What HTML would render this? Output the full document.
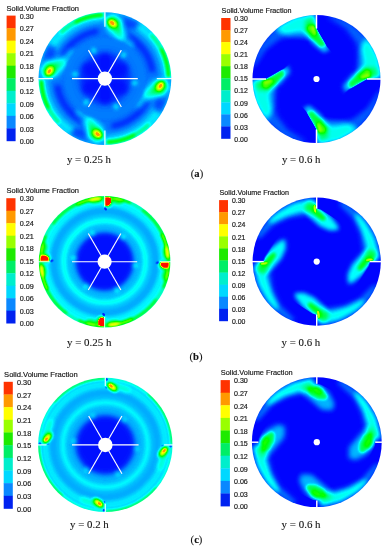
<!DOCTYPE html>
<html><head><meta charset="utf-8"><title>Solid volume fraction</title>
<style>
html,body{margin:0;padding:0;background:#fff;}
svg{display:block;}
.lg text{font-family:"Liberation Sans",sans-serif;fill:#1a1a1a;stroke:#1a1a1a;stroke-width:0.18px;}
.cap{font-family:"Liberation Serif",serif;font-size:10.6px;fill:#111;stroke:#111;stroke-width:0.1px;}
</style></head><body>
<svg width="386" height="550" viewBox="0 0 386 550">
<defs>
<filter id="cm" filterUnits="userSpaceOnUse" x="-70" y="-70" width="140" height="140" color-interpolation-filters="sRGB"><feComponentTransfer><feFuncR type="table" tableValues="0 0 0 1 1"/><feFuncG type="table" tableValues="0 1 1 1 0"/><feFuncB type="table" tableValues="1 1 0 0 0"/></feComponentTransfer></filter>
<clipPath id="clip"><circle r="64"/></clipPath>
<clipPath id="cqa"><path d="M0 -70L0 -50.5L10.5 -32.2L14 -28.5L19 -26L40 -22L40 10L-80 10L-80 -70Z"/></clipPath>
<clipPath id="cqb"><path d="M0 -70L0 -53L4 -52L40 -29L40 10L-80 10L-80 -70Z"/></clipPath>
<clipPath id="cqc"><path d="M0 -70L0 -57.6L4 -57L40 -39L40 10L-80 10L-80 -70Z"/></clipPath>
<filter id="b0_55" filterUnits="userSpaceOnUse" x="-90" y="-90" width="180" height="180" color-interpolation-filters="sRGB"><feGaussianBlur stdDeviation="0.55"/></filter>
<filter id="b0_6" filterUnits="userSpaceOnUse" x="-90" y="-90" width="180" height="180" color-interpolation-filters="sRGB"><feGaussianBlur stdDeviation="0.6"/></filter>
<filter id="b0_7" filterUnits="userSpaceOnUse" x="-90" y="-90" width="180" height="180" color-interpolation-filters="sRGB"><feGaussianBlur stdDeviation="0.7"/></filter>
<filter id="b0_75" filterUnits="userSpaceOnUse" x="-90" y="-90" width="180" height="180" color-interpolation-filters="sRGB"><feGaussianBlur stdDeviation="0.75"/></filter>
<filter id="b0_8" filterUnits="userSpaceOnUse" x="-90" y="-90" width="180" height="180" color-interpolation-filters="sRGB"><feGaussianBlur stdDeviation="0.8"/></filter>
<filter id="b0_9" filterUnits="userSpaceOnUse" x="-90" y="-90" width="180" height="180" color-interpolation-filters="sRGB"><feGaussianBlur stdDeviation="0.9"/></filter>
<filter id="b1" filterUnits="userSpaceOnUse" x="-90" y="-90" width="180" height="180" color-interpolation-filters="sRGB"><feGaussianBlur stdDeviation="1"/></filter>
<filter id="b1_0" filterUnits="userSpaceOnUse" x="-90" y="-90" width="180" height="180" color-interpolation-filters="sRGB"><feGaussianBlur stdDeviation="1.0"/></filter>
<filter id="b1_1" filterUnits="userSpaceOnUse" x="-90" y="-90" width="180" height="180" color-interpolation-filters="sRGB"><feGaussianBlur stdDeviation="1.1"/></filter>
<filter id="b1_2" filterUnits="userSpaceOnUse" x="-90" y="-90" width="180" height="180" color-interpolation-filters="sRGB"><feGaussianBlur stdDeviation="1.2"/></filter>
<filter id="b1_3" filterUnits="userSpaceOnUse" x="-90" y="-90" width="180" height="180" color-interpolation-filters="sRGB"><feGaussianBlur stdDeviation="1.3"/></filter>
<filter id="b1_4" filterUnits="userSpaceOnUse" x="-90" y="-90" width="180" height="180" color-interpolation-filters="sRGB"><feGaussianBlur stdDeviation="1.4"/></filter>
<filter id="b1_5" filterUnits="userSpaceOnUse" x="-90" y="-90" width="180" height="180" color-interpolation-filters="sRGB"><feGaussianBlur stdDeviation="1.5"/></filter>
<filter id="b1_6" filterUnits="userSpaceOnUse" x="-90" y="-90" width="180" height="180" color-interpolation-filters="sRGB"><feGaussianBlur stdDeviation="1.6"/></filter>
<filter id="b1_8" filterUnits="userSpaceOnUse" x="-90" y="-90" width="180" height="180" color-interpolation-filters="sRGB"><feGaussianBlur stdDeviation="1.8"/></filter>
<filter id="b2" filterUnits="userSpaceOnUse" x="-90" y="-90" width="180" height="180" color-interpolation-filters="sRGB"><feGaussianBlur stdDeviation="2"/></filter>
<filter id="b2_2" filterUnits="userSpaceOnUse" x="-90" y="-90" width="180" height="180" color-interpolation-filters="sRGB"><feGaussianBlur stdDeviation="2.2"/></filter>
<filter id="b2_3" filterUnits="userSpaceOnUse" x="-90" y="-90" width="180" height="180" color-interpolation-filters="sRGB"><feGaussianBlur stdDeviation="2.3"/></filter>
<filter id="b2_4" filterUnits="userSpaceOnUse" x="-90" y="-90" width="180" height="180" color-interpolation-filters="sRGB"><feGaussianBlur stdDeviation="2.4"/></filter>
<filter id="b2_5" filterUnits="userSpaceOnUse" x="-90" y="-90" width="180" height="180" color-interpolation-filters="sRGB"><feGaussianBlur stdDeviation="2.5"/></filter>
<filter id="b3_2" filterUnits="userSpaceOnUse" x="-90" y="-90" width="180" height="180" color-interpolation-filters="sRGB"><feGaussianBlur stdDeviation="3.2"/></filter>
</defs>
<g transform="translate(104.9 78.6) scale(1.0375)"><g filter="url(#cm)" clip-path="url(#clip)"><rect x="-70" y="-70" width="140" height="140" fill="rgb(29,29,29)"/><g transform="rotate(0)"><g filter="url(#b2_5)"><path d="M26.06 -49.00A55.5 55.5 0 0 1 55.47 -1.94" fill="none" stroke="rgb(255,255,255)" stroke-width="6" stroke-opacity="0.06" stroke-linecap="butt"/></g><g filter="url(#b2_2)"><path d="M21.74 -40.88A46.3 46.3 0 0 1 45.85 -6.44" fill="none" stroke="rgb(0,0,0)" stroke-width="6" stroke-opacity="0.65" stroke-linecap="butt"/></g><g filter="url(#b2_2)"><ellipse cx="24.5" cy="-52" rx="8" ry="3.6" fill="rgb(0,0,0)" fill-opacity="0.42" transform="rotate(25 24.5 -52)"/></g><g filter="url(#b2)"><path d="M32.11 -51.39A60.6 60.6 0 0 1 60.59 -1.06" fill="none" stroke="rgb(255,255,255)" stroke-width="7" stroke-opacity="0.13" stroke-linecap="butt"/></g><g filter="url(#b1_4)"><path d="M44.17 -42.65A61.4 61.4 0 0 1 61.39 -1.07" fill="none" stroke="rgb(255,255,255)" stroke-width="3.6" stroke-opacity="0.2" stroke-linecap="butt"/></g><g filter="url(#b1_3)"><path d="M54.21 -28.83A61.4 61.4 0 0 1 61.38 -1.61" fill="none" stroke="rgb(255,255,255)" stroke-width="3.2" stroke-opacity="0.27" stroke-linecap="butt"/></g><g filter="url(#b2_5)"><path d="M14 -44L25 -33" fill="none" stroke="rgb(255,255,255)" stroke-width="7" stroke-opacity="0.09" stroke-linecap="round"/></g><g filter="url(#b2_5)"><path d="M0.5 -60L9 -62L17 -57L19 -46L16.5 -35L11 -38L2 -46L0.5 -53Z" fill="rgb(255,255,255)" fill-opacity="0.15"/></g><g filter="url(#b2)"><path d="M1.5 -58.5L9 -60L14.5 -55.5L15 -49L13.5 -44L9 -46L3 -50.5L1.5 -54Z" fill="rgb(255,255,255)" fill-opacity="0.25"/></g><g filter="url(#b1_5)"><ellipse cx="7.5" cy="-53" rx="5.5" ry="4.6" fill="rgb(255,255,255)" fill-opacity="0.22" transform="rotate(30 7.5 -53)"/></g><g filter="url(#b1_1)"><ellipse cx="7.3" cy="-53.3" rx="4.9" ry="3.3" fill="rgb(255,255,255)" fill-opacity="0.4" transform="rotate(35 7.3 -53.3)"/></g><g filter="url(#b0_7)"><ellipse cx="7" cy="-53.6" rx="2.5" ry="1.7" fill="rgb(255,255,255)" fill-opacity="0.45" transform="rotate(35 7 -53.6)"/></g></g><g transform="rotate(90)"><g filter="url(#b2_5)"><path d="M26.06 -49.00A55.5 55.5 0 0 1 55.47 -1.94" fill="none" stroke="rgb(255,255,255)" stroke-width="6" stroke-opacity="0.06" stroke-linecap="butt"/></g><g filter="url(#b2_2)"><path d="M21.74 -40.88A46.3 46.3 0 0 1 45.85 -6.44" fill="none" stroke="rgb(0,0,0)" stroke-width="6" stroke-opacity="0.65" stroke-linecap="butt"/></g><g filter="url(#b2_2)"><ellipse cx="24.5" cy="-52" rx="8" ry="3.6" fill="rgb(0,0,0)" fill-opacity="0.42" transform="rotate(25 24.5 -52)"/></g><g filter="url(#b2)"><path d="M32.11 -51.39A60.6 60.6 0 0 1 60.59 -1.06" fill="none" stroke="rgb(255,255,255)" stroke-width="7" stroke-opacity="0.13" stroke-linecap="butt"/></g><g filter="url(#b1_4)"><path d="M44.17 -42.65A61.4 61.4 0 0 1 61.39 -1.07" fill="none" stroke="rgb(255,255,255)" stroke-width="3.6" stroke-opacity="0.2" stroke-linecap="butt"/></g><g filter="url(#b1_3)"><path d="M54.21 -28.83A61.4 61.4 0 0 1 61.38 -1.61" fill="none" stroke="rgb(255,255,255)" stroke-width="3.2" stroke-opacity="0.27" stroke-linecap="butt"/></g><g filter="url(#b2_5)"><path d="M14 -44L25 -33" fill="none" stroke="rgb(255,255,255)" stroke-width="7" stroke-opacity="0.09" stroke-linecap="round"/></g><g filter="url(#b2_5)"><path d="M0.5 -60L9 -62L17 -57L19 -46L16.5 -35L11 -38L2 -46L0.5 -53Z" fill="rgb(255,255,255)" fill-opacity="0.15"/></g><g filter="url(#b2)"><path d="M1.5 -58.5L9 -60L14.5 -55.5L15 -49L13.5 -44L9 -46L3 -50.5L1.5 -54Z" fill="rgb(255,255,255)" fill-opacity="0.25"/></g><g filter="url(#b1_5)"><ellipse cx="7.5" cy="-53" rx="5.5" ry="4.6" fill="rgb(255,255,255)" fill-opacity="0.22" transform="rotate(30 7.5 -53)"/></g><g filter="url(#b1_1)"><ellipse cx="7.3" cy="-53.3" rx="4.9" ry="3.3" fill="rgb(255,255,255)" fill-opacity="0.4" transform="rotate(35 7.3 -53.3)"/></g><g filter="url(#b0_7)"><ellipse cx="7" cy="-53.6" rx="2.5" ry="1.7" fill="rgb(255,255,255)" fill-opacity="0.45" transform="rotate(35 7 -53.6)"/></g></g><g transform="rotate(180)"><g filter="url(#b2_5)"><path d="M26.06 -49.00A55.5 55.5 0 0 1 55.47 -1.94" fill="none" stroke="rgb(255,255,255)" stroke-width="6" stroke-opacity="0.06" stroke-linecap="butt"/></g><g filter="url(#b2_2)"><path d="M21.74 -40.88A46.3 46.3 0 0 1 45.85 -6.44" fill="none" stroke="rgb(0,0,0)" stroke-width="6" stroke-opacity="0.65" stroke-linecap="butt"/></g><g filter="url(#b2_2)"><ellipse cx="24.5" cy="-52" rx="8" ry="3.6" fill="rgb(0,0,0)" fill-opacity="0.42" transform="rotate(25 24.5 -52)"/></g><g filter="url(#b2)"><path d="M32.11 -51.39A60.6 60.6 0 0 1 60.59 -1.06" fill="none" stroke="rgb(255,255,255)" stroke-width="7" stroke-opacity="0.13" stroke-linecap="butt"/></g><g filter="url(#b1_4)"><path d="M44.17 -42.65A61.4 61.4 0 0 1 61.39 -1.07" fill="none" stroke="rgb(255,255,255)" stroke-width="3.6" stroke-opacity="0.2" stroke-linecap="butt"/></g><g filter="url(#b1_3)"><path d="M54.21 -28.83A61.4 61.4 0 0 1 61.38 -1.61" fill="none" stroke="rgb(255,255,255)" stroke-width="3.2" stroke-opacity="0.27" stroke-linecap="butt"/></g><g filter="url(#b2_5)"><path d="M14 -44L25 -33" fill="none" stroke="rgb(255,255,255)" stroke-width="7" stroke-opacity="0.09" stroke-linecap="round"/></g><g filter="url(#b2_5)"><path d="M0.5 -60L9 -62L17 -57L19 -46L16.5 -35L11 -38L2 -46L0.5 -53Z" fill="rgb(255,255,255)" fill-opacity="0.15"/></g><g filter="url(#b2)"><path d="M1.5 -58.5L9 -60L14.5 -55.5L15 -49L13.5 -44L9 -46L3 -50.5L1.5 -54Z" fill="rgb(255,255,255)" fill-opacity="0.25"/></g><g filter="url(#b1_5)"><ellipse cx="7.5" cy="-53" rx="5.5" ry="4.6" fill="rgb(255,255,255)" fill-opacity="0.22" transform="rotate(30 7.5 -53)"/></g><g filter="url(#b1_1)"><ellipse cx="7.3" cy="-53.3" rx="4.9" ry="3.3" fill="rgb(255,255,255)" fill-opacity="0.4" transform="rotate(35 7.3 -53.3)"/></g><g filter="url(#b0_7)"><ellipse cx="7" cy="-53.6" rx="2.5" ry="1.7" fill="rgb(255,255,255)" fill-opacity="0.45" transform="rotate(35 7 -53.6)"/></g></g><g transform="rotate(270)"><g filter="url(#b2_5)"><path d="M26.06 -49.00A55.5 55.5 0 0 1 55.47 -1.94" fill="none" stroke="rgb(255,255,255)" stroke-width="6" stroke-opacity="0.06" stroke-linecap="butt"/></g><g filter="url(#b2_2)"><path d="M21.74 -40.88A46.3 46.3 0 0 1 45.85 -6.44" fill="none" stroke="rgb(0,0,0)" stroke-width="6" stroke-opacity="0.65" stroke-linecap="butt"/></g><g filter="url(#b2_2)"><ellipse cx="24.5" cy="-52" rx="8" ry="3.6" fill="rgb(0,0,0)" fill-opacity="0.42" transform="rotate(25 24.5 -52)"/></g><g filter="url(#b2)"><path d="M32.11 -51.39A60.6 60.6 0 0 1 60.59 -1.06" fill="none" stroke="rgb(255,255,255)" stroke-width="7" stroke-opacity="0.13" stroke-linecap="butt"/></g><g filter="url(#b1_4)"><path d="M44.17 -42.65A61.4 61.4 0 0 1 61.39 -1.07" fill="none" stroke="rgb(255,255,255)" stroke-width="3.6" stroke-opacity="0.2" stroke-linecap="butt"/></g><g filter="url(#b1_3)"><path d="M54.21 -28.83A61.4 61.4 0 0 1 61.38 -1.61" fill="none" stroke="rgb(255,255,255)" stroke-width="3.2" stroke-opacity="0.27" stroke-linecap="butt"/></g><g filter="url(#b2_5)"><path d="M14 -44L25 -33" fill="none" stroke="rgb(255,255,255)" stroke-width="7" stroke-opacity="0.09" stroke-linecap="round"/></g><g filter="url(#b2_5)"><path d="M0.5 -60L9 -62L17 -57L19 -46L16.5 -35L11 -38L2 -46L0.5 -53Z" fill="rgb(255,255,255)" fill-opacity="0.15"/></g><g filter="url(#b2)"><path d="M1.5 -58.5L9 -60L14.5 -55.5L15 -49L13.5 -44L9 -46L3 -50.5L1.5 -54Z" fill="rgb(255,255,255)" fill-opacity="0.25"/></g><g filter="url(#b1_5)"><ellipse cx="7.5" cy="-53" rx="5.5" ry="4.6" fill="rgb(255,255,255)" fill-opacity="0.22" transform="rotate(30 7.5 -53)"/></g><g filter="url(#b1_1)"><ellipse cx="7.3" cy="-53.3" rx="4.9" ry="3.3" fill="rgb(255,255,255)" fill-opacity="0.4" transform="rotate(35 7.3 -53.3)"/></g><g filter="url(#b0_7)"><ellipse cx="7" cy="-53.6" rx="2.5" ry="1.7" fill="rgb(255,255,255)" fill-opacity="0.45" transform="rotate(35 7 -53.6)"/></g></g><g filter="url(#b1)"><circle r="63.6" fill="none" stroke="rgb(255,255,255)" stroke-width="1.6" stroke-opacity="0.08"/></g><g filter="url(#b0_8)"><circle r="39.3" fill="rgb(32,32,32)" fill-opacity="0.85"/></g><g filter="url(#b3_2)"><circle r="25" fill="rgb(5,5,5)" fill-opacity="0.8"/></g><g transform="rotate(0)"><g filter="url(#b2_2)"><ellipse cx="0" cy="-15.5" rx="6.5" ry="9.5" fill="rgb(0,0,0)" fill-opacity="0.6" transform="rotate(0 0 -15.5)"/></g></g><g transform="rotate(60)"><g filter="url(#b2_2)"><ellipse cx="0" cy="-15.5" rx="6.5" ry="9.5" fill="rgb(0,0,0)" fill-opacity="0.6" transform="rotate(0 0 -15.5)"/></g></g><g transform="rotate(120)"><g filter="url(#b2_2)"><ellipse cx="0" cy="-15.5" rx="6.5" ry="9.5" fill="rgb(0,0,0)" fill-opacity="0.6" transform="rotate(0 0 -15.5)"/></g></g><g transform="rotate(180)"><g filter="url(#b2_2)"><ellipse cx="0" cy="-15.5" rx="6.5" ry="9.5" fill="rgb(0,0,0)" fill-opacity="0.6" transform="rotate(0 0 -15.5)"/></g></g><g transform="rotate(240)"><g filter="url(#b2_2)"><ellipse cx="0" cy="-15.5" rx="6.5" ry="9.5" fill="rgb(0,0,0)" fill-opacity="0.6" transform="rotate(0 0 -15.5)"/></g></g><g transform="rotate(300)"><g filter="url(#b2_2)"><ellipse cx="0" cy="-15.5" rx="6.5" ry="9.5" fill="rgb(0,0,0)" fill-opacity="0.6" transform="rotate(0 0 -15.5)"/></g></g><g transform="rotate(30)"><g filter="url(#b1_5)"><ellipse cx="4.2" cy="-28.5" rx="2.6" ry="3.2" fill="rgb(255,255,255)" fill-opacity="0.1" transform="rotate(0 4.2 -28.5)"/></g></g><g transform="rotate(90)"><g filter="url(#b1_5)"><ellipse cx="4.2" cy="-28.5" rx="2.6" ry="3.2" fill="rgb(255,255,255)" fill-opacity="0.1" transform="rotate(0 4.2 -28.5)"/></g></g><g transform="rotate(150)"><g filter="url(#b1_5)"><ellipse cx="4.2" cy="-28.5" rx="2.6" ry="3.2" fill="rgb(255,255,255)" fill-opacity="0.1" transform="rotate(0 4.2 -28.5)"/></g></g><g transform="rotate(210)"><g filter="url(#b1_5)"><ellipse cx="4.2" cy="-28.5" rx="2.6" ry="3.2" fill="rgb(255,255,255)" fill-opacity="0.1" transform="rotate(0 4.2 -28.5)"/></g></g><g transform="rotate(270)"><g filter="url(#b1_5)"><ellipse cx="4.2" cy="-28.5" rx="2.6" ry="3.2" fill="rgb(255,255,255)" fill-opacity="0.1" transform="rotate(0 4.2 -28.5)"/></g></g><g transform="rotate(330)"><g filter="url(#b1_5)"><ellipse cx="4.2" cy="-28.5" rx="2.6" ry="3.2" fill="rgb(255,255,255)" fill-opacity="0.1" transform="rotate(0 4.2 -28.5)"/></g></g></g><g transform="rotate(0)"><line x1="0" y1="-66" x2="0" y2="-50" stroke="#fff" stroke-width="1.2" stroke-opacity="0.92"/></g><g transform="rotate(90)"><line x1="0" y1="-66" x2="0" y2="-50" stroke="#fff" stroke-width="1.2" stroke-opacity="0.92"/></g><g transform="rotate(180)"><line x1="0" y1="-66" x2="0" y2="-50" stroke="#fff" stroke-width="1.2" stroke-opacity="0.92"/></g><g transform="rotate(270)"><line x1="0" y1="-66" x2="0" y2="-50" stroke="#fff" stroke-width="1.2" stroke-opacity="0.92"/></g><line x1="-31.70" y1="-0.00" x2="31.70" y2="0.00" stroke="#fff" stroke-width="1.1"/><line x1="-15.85" y1="-27.45" x2="15.85" y2="27.45" stroke="#fff" stroke-width="1.1"/><line x1="15.85" y1="-27.45" x2="-15.85" y2="27.45" stroke="#fff" stroke-width="1.1"/><circle r="6.9" fill="#fff"/></g><g class="lg"><text x="6.6" y="10.8" font-size="7.44">Solid.Volume Fraction</text><rect x="6.6" y="15.60" width="9.00" height="12.83" fill="#ff3300"/><rect x="6.6" y="28.13" width="9.00" height="12.83" fill="#ff9900"/><rect x="6.6" y="40.66" width="9.00" height="12.83" fill="#ffff00"/><rect x="6.6" y="53.19" width="9.00" height="12.83" fill="#99ff00"/><rect x="6.6" y="65.72" width="9.00" height="12.83" fill="#1eea00"/><rect x="6.6" y="78.25" width="9.00" height="12.83" fill="#00ee66"/><rect x="6.6" y="90.78" width="9.00" height="12.83" fill="#00eecc"/><rect x="6.6" y="103.31" width="9.00" height="12.83" fill="#00d8ff"/><rect x="6.6" y="115.84" width="9.00" height="12.83" fill="#0a88ff"/><rect x="6.6" y="128.37" width="9.00" height="12.83" fill="#0022f0"/><text x="19.7" y="18.88" font-size="7.2">0.30</text><text x="19.7" y="31.41" font-size="7.2">0.27</text><text x="19.7" y="43.94" font-size="7.2">0.24</text><text x="19.7" y="56.47" font-size="7.2">0.21</text><text x="19.7" y="69.00" font-size="7.2">0.18</text><text x="19.7" y="81.53" font-size="7.2">0.15</text><text x="19.7" y="94.06" font-size="7.2">0.12</text><text x="19.7" y="106.59" font-size="7.2">0.09</text><text x="19.7" y="119.12" font-size="7.2">0.06</text><text x="19.7" y="131.65" font-size="7.2">0.03</text><text x="19.7" y="144.18" font-size="7.2">0.00</text></g><g transform="translate(316.5 79) scale(1.0000)"><g filter="url(#cm)" clip-path="url(#clip)"><rect x="-70" y="-70" width="140" height="140" fill="rgb(1,1,1)"/><g transform="rotate(0)"><g filter="url(#b0_75)"><g clip-path="url(#cqa)"><g filter="url(#b2_5)"><path d="M2.3 -65.96L-22.57 -62.02L-42.42 -50.56L-57.16 -33.0L-65.0 -11.46L-61.13 -12.99L-50.66 -29.25L-36.13 -40.13L-21.79 -42.77L-8.94 -42.06L0.7 -39.99Z" fill="rgb(255,255,255)" fill-opacity="0.09"/></g><g filter="url(#b2_2)"><path d="M-2.3 -65.96L-22.57 -62.02L-42.42 -50.56L-34.48 -44.13L-19.1 -47.29L-4.1 -46.82Z" fill="rgb(255,255,255)" fill-opacity="0.15"/><path d="M-2.3 -65.96L-22.57 -62.02L-38.79 -53.4L-27.96 -41.45L-14.71 -40.41L-2.72 -38.9Z" fill="rgb(255,255,255)" fill-opacity="0.06"/></g><g filter="url(#b2)"><path d="M-11 -59L-1 -61.5L0 -50.5L13.2 -29L7 -26.5L-4 -35.5L-12 -47Z" fill="rgb(255,255,255)" fill-opacity="0.2"/></g><g filter="url(#b1_5)"><path d="M-8.5 -54L-1 -55.5L0 -50L10 -34L4 -32L-6 -42L-10 -50Z" fill="rgb(255,255,255)" fill-opacity="0.3"/></g><g filter="url(#b1)"><ellipse cx="-2.4" cy="-48.5" rx="2.2" ry="4.8" fill="rgb(255,255,255)" fill-opacity="0.25" transform="rotate(-14 -2.4 -48.5)"/></g></g></g></g><g transform="rotate(90)"><g filter="url(#b0_75)"><g clip-path="url(#cqa)"><g filter="url(#b2_5)"><path d="M2.3 -65.96L-22.57 -62.02L-42.42 -50.56L-57.16 -33.0L-65.0 -11.46L-61.13 -12.99L-50.66 -29.25L-36.13 -40.13L-21.79 -42.77L-8.94 -42.06L0.7 -39.99Z" fill="rgb(255,255,255)" fill-opacity="0.09"/></g><g filter="url(#b2_2)"><path d="M-2.3 -65.96L-22.57 -62.02L-42.42 -50.56L-34.48 -44.13L-19.1 -47.29L-4.1 -46.82Z" fill="rgb(255,255,255)" fill-opacity="0.15"/><path d="M-2.3 -65.96L-22.57 -62.02L-38.79 -53.4L-27.96 -41.45L-14.71 -40.41L-2.72 -38.9Z" fill="rgb(255,255,255)" fill-opacity="0.06"/></g><g filter="url(#b2)"><path d="M-11 -59L-1 -61.5L0 -50.5L13.2 -29L7 -26.5L-4 -35.5L-12 -47Z" fill="rgb(255,255,255)" fill-opacity="0.2"/></g><g filter="url(#b1_5)"><path d="M-8.5 -54L-1 -55.5L0 -50L10 -34L4 -32L-6 -42L-10 -50Z" fill="rgb(255,255,255)" fill-opacity="0.3"/></g><g filter="url(#b1)"><ellipse cx="-2.4" cy="-48.5" rx="2.2" ry="4.8" fill="rgb(255,255,255)" fill-opacity="0.25" transform="rotate(-14 -2.4 -48.5)"/></g></g></g></g><g transform="rotate(180)"><g filter="url(#b0_75)"><g clip-path="url(#cqa)"><g filter="url(#b2_5)"><path d="M2.3 -65.96L-22.57 -62.02L-42.42 -50.56L-57.16 -33.0L-65.0 -11.46L-61.13 -12.99L-50.66 -29.25L-36.13 -40.13L-21.79 -42.77L-8.94 -42.06L0.7 -39.99Z" fill="rgb(255,255,255)" fill-opacity="0.09"/></g><g filter="url(#b2_2)"><path d="M-2.3 -65.96L-22.57 -62.02L-42.42 -50.56L-34.48 -44.13L-19.1 -47.29L-4.1 -46.82Z" fill="rgb(255,255,255)" fill-opacity="0.15"/><path d="M-2.3 -65.96L-22.57 -62.02L-38.79 -53.4L-27.96 -41.45L-14.71 -40.41L-2.72 -38.9Z" fill="rgb(255,255,255)" fill-opacity="0.06"/></g><g filter="url(#b2)"><path d="M-11 -59L-1 -61.5L0 -50.5L13.2 -29L7 -26.5L-4 -35.5L-12 -47Z" fill="rgb(255,255,255)" fill-opacity="0.2"/></g><g filter="url(#b1_5)"><path d="M-8.5 -54L-1 -55.5L0 -50L10 -34L4 -32L-6 -42L-10 -50Z" fill="rgb(255,255,255)" fill-opacity="0.3"/></g><g filter="url(#b1)"><ellipse cx="-2.4" cy="-48.5" rx="2.2" ry="4.8" fill="rgb(255,255,255)" fill-opacity="0.25" transform="rotate(-14 -2.4 -48.5)"/></g></g></g></g><g transform="rotate(270)"><g filter="url(#b0_75)"><g clip-path="url(#cqa)"><g filter="url(#b2_5)"><path d="M2.3 -65.96L-22.57 -62.02L-42.42 -50.56L-57.16 -33.0L-65.0 -11.46L-61.13 -12.99L-50.66 -29.25L-36.13 -40.13L-21.79 -42.77L-8.94 -42.06L0.7 -39.99Z" fill="rgb(255,255,255)" fill-opacity="0.09"/></g><g filter="url(#b2_2)"><path d="M-2.3 -65.96L-22.57 -62.02L-42.42 -50.56L-34.48 -44.13L-19.1 -47.29L-4.1 -46.82Z" fill="rgb(255,255,255)" fill-opacity="0.15"/><path d="M-2.3 -65.96L-22.57 -62.02L-38.79 -53.4L-27.96 -41.45L-14.71 -40.41L-2.72 -38.9Z" fill="rgb(255,255,255)" fill-opacity="0.06"/></g><g filter="url(#b2)"><path d="M-11 -59L-1 -61.5L0 -50.5L13.2 -29L7 -26.5L-4 -35.5L-12 -47Z" fill="rgb(255,255,255)" fill-opacity="0.2"/></g><g filter="url(#b1_5)"><path d="M-8.5 -54L-1 -55.5L0 -50L10 -34L4 -32L-6 -42L-10 -50Z" fill="rgb(255,255,255)" fill-opacity="0.3"/></g><g filter="url(#b1)"><ellipse cx="-2.4" cy="-48.5" rx="2.2" ry="4.8" fill="rgb(255,255,255)" fill-opacity="0.25" transform="rotate(-14 -2.4 -48.5)"/></g></g></g></g></g><g transform="rotate(0)"><line x1="0" y1="-66" x2="0" y2="-50.5" stroke="#fff" stroke-width="1.5" stroke-opacity="1"/></g><g transform="rotate(90)"><line x1="0" y1="-66" x2="0" y2="-50.5" stroke="#fff" stroke-width="1.5" stroke-opacity="1"/></g><g transform="rotate(180)"><line x1="0" y1="-66" x2="0" y2="-50.5" stroke="#fff" stroke-width="1.5" stroke-opacity="1"/></g><g transform="rotate(270)"><line x1="0" y1="-66" x2="0" y2="-50.5" stroke="#fff" stroke-width="1.5" stroke-opacity="1"/></g><circle r="3.1" fill="#fff"/></g><g class="lg"><text x="221.6" y="12.8" font-size="7.20">Solid.Volume Fraction</text><rect x="221.2" y="18.00" width="9.30" height="12.35" fill="#ff3300"/><rect x="221.2" y="30.05" width="9.30" height="12.35" fill="#ff9900"/><rect x="221.2" y="42.10" width="9.30" height="12.35" fill="#ffff00"/><rect x="221.2" y="54.15" width="9.30" height="12.35" fill="#99ff00"/><rect x="221.2" y="66.20" width="9.30" height="12.35" fill="#1eea00"/><rect x="221.2" y="78.25" width="9.30" height="12.35" fill="#00ee66"/><rect x="221.2" y="90.30" width="9.30" height="12.35" fill="#00eecc"/><rect x="221.2" y="102.35" width="9.30" height="12.35" fill="#00d8ff"/><rect x="221.2" y="114.40" width="9.30" height="12.35" fill="#0a88ff"/><rect x="221.2" y="126.45" width="9.30" height="12.35" fill="#0022f0"/><text x="234.3" y="21.17" font-size="6.9">0.30</text><text x="234.3" y="33.22" font-size="6.9">0.27</text><text x="234.3" y="45.27" font-size="6.9">0.24</text><text x="234.3" y="57.32" font-size="6.9">0.21</text><text x="234.3" y="69.37" font-size="6.9">0.18</text><text x="234.3" y="81.42" font-size="6.9">0.15</text><text x="234.3" y="93.47" font-size="6.9">0.12</text><text x="234.3" y="105.52" font-size="6.9">0.09</text><text x="234.3" y="117.57" font-size="6.9">0.06</text><text x="234.3" y="129.62" font-size="6.9">0.03</text><text x="234.3" y="141.67" font-size="6.9">0.00</text></g><text class="cap" x="67" y="162.6" textLength="44" lengthAdjust="spacingAndGlyphs">y = 0.25 h</text><text class="cap" x="282" y="162.6" textLength="38.4" lengthAdjust="spacingAndGlyphs">y = 0.6 h</text><text class="cap" x="190.8" y="177">(<tspan font-weight="bold">a</tspan>)</text><g transform="translate(104.6 261.7) scale(1.0281)"><g filter="url(#cm)" clip-path="url(#clip)"><rect x="-70" y="-70" width="140" height="140" fill="rgb(54,54,54)"/><g filter="url(#b2_4)"><circle r="49.5" fill="none" stroke="rgb(0,0,0)" stroke-width="6.5" stroke-opacity="0.25"/></g><g filter="url(#b2)"><circle r="57" fill="none" stroke="rgb(255,255,255)" stroke-width="5" stroke-opacity="0.06"/></g><g filter="url(#b1_3)"><circle r="62.6" fill="none" stroke="rgb(255,255,255)" stroke-width="3.6" stroke-opacity="0.17"/></g><g filter="url(#b1_5)"><circle r="39.8" fill="none" stroke="rgb(255,255,255)" stroke-width="4.5" stroke-opacity="0.07"/></g><g filter="url(#b1_5)"><circle r="35.5" fill="rgb(41,41,41)" fill-opacity="0.6"/></g><g filter="url(#b2_3)"><circle r="28.3" fill="rgb(3,3,3)" fill-opacity="0.96"/></g><g transform="rotate(0)"><g filter="url(#b1_2)"><path d="M36.68 -50.48A62.4 62.4 0 0 1 62.39 -1.09" fill="none" stroke="rgb(255,255,255)" stroke-width="3.2" stroke-opacity="0.2" stroke-linecap="butt"/></g><g filter="url(#b1_2)"><path d="M55.37 -27.00A61.6 61.6 0 0 1 61.45 -4.30" fill="none" stroke="rgb(255,255,255)" stroke-width="3" stroke-opacity="0.34" stroke-linecap="butt"/></g><g filter="url(#b1_2)"><path d="M8.71 -61.99A62.6 62.6 0 0 1 25.46 -57.19" fill="none" stroke="rgb(255,255,255)" stroke-width="2.4" stroke-opacity="0.3" stroke-linecap="butt"/></g><g filter="url(#b1_3)"><ellipse cx="-8.5" cy="-60.3" rx="6.5" ry="3" fill="rgb(255,255,255)" fill-opacity="0.4" transform="rotate(-8 -8.5 -60.3)"/></g><g filter="url(#b1_5)"><ellipse cx="12.5" cy="-59.6" rx="6" ry="3.2" fill="rgb(255,255,255)" fill-opacity="0.3" transform="rotate(12 12.5 -59.6)"/></g><g filter="url(#b1_6)"><path d="M0.2 -64.5L7.6 -64L7.6 -57.5L5.2 -53.6L1.5 -53L0.2 -54.5Z" fill="rgb(255,255,255)" fill-opacity="0.42"/></g><g filter="url(#b0_55)"><path d="M0.5 -62.8L4 -62.6L6.3 -61.6L6.3 -57.5L4.4 -54.6L1.6 -54.1L0.5 -55.2Z" fill="rgb(255,255,255)" fill-opacity="0.97"/></g><g filter="url(#b0_7)"><ellipse cx="0.9" cy="-51.4" rx="1.2" ry="1.7" fill="rgb(0,0,0)" fill-opacity="0.8" transform="rotate(-35 0.9 -51.4)"/></g></g><g transform="rotate(90)"><g filter="url(#b1_2)"><path d="M36.68 -50.48A62.4 62.4 0 0 1 62.39 -1.09" fill="none" stroke="rgb(255,255,255)" stroke-width="3.2" stroke-opacity="0.2" stroke-linecap="butt"/></g><g filter="url(#b1_2)"><path d="M55.37 -27.00A61.6 61.6 0 0 1 61.45 -4.30" fill="none" stroke="rgb(255,255,255)" stroke-width="3" stroke-opacity="0.34" stroke-linecap="butt"/></g><g filter="url(#b1_2)"><path d="M8.71 -61.99A62.6 62.6 0 0 1 25.46 -57.19" fill="none" stroke="rgb(255,255,255)" stroke-width="2.4" stroke-opacity="0.3" stroke-linecap="butt"/></g><g filter="url(#b1_3)"><ellipse cx="-8.5" cy="-60.3" rx="6.5" ry="3" fill="rgb(255,255,255)" fill-opacity="0.4" transform="rotate(-8 -8.5 -60.3)"/></g><g filter="url(#b1_5)"><ellipse cx="12.5" cy="-59.6" rx="6" ry="3.2" fill="rgb(255,255,255)" fill-opacity="0.3" transform="rotate(12 12.5 -59.6)"/></g><g filter="url(#b1_6)"><path d="M0.2 -64.5L7.6 -64L7.6 -57.5L5.2 -53.6L1.5 -53L0.2 -54.5Z" fill="rgb(255,255,255)" fill-opacity="0.42"/></g><g filter="url(#b0_55)"><path d="M0.5 -62.8L4 -62.6L6.3 -61.6L6.3 -57.5L4.4 -54.6L1.6 -54.1L0.5 -55.2Z" fill="rgb(255,255,255)" fill-opacity="0.97"/></g><g filter="url(#b0_7)"><ellipse cx="0.9" cy="-51.4" rx="1.2" ry="1.7" fill="rgb(0,0,0)" fill-opacity="0.8" transform="rotate(-35 0.9 -51.4)"/></g></g><g transform="rotate(180)"><g filter="url(#b1_2)"><path d="M36.68 -50.48A62.4 62.4 0 0 1 62.39 -1.09" fill="none" stroke="rgb(255,255,255)" stroke-width="3.2" stroke-opacity="0.2" stroke-linecap="butt"/></g><g filter="url(#b1_2)"><path d="M55.37 -27.00A61.6 61.6 0 0 1 61.45 -4.30" fill="none" stroke="rgb(255,255,255)" stroke-width="3" stroke-opacity="0.34" stroke-linecap="butt"/></g><g filter="url(#b1_2)"><path d="M8.71 -61.99A62.6 62.6 0 0 1 25.46 -57.19" fill="none" stroke="rgb(255,255,255)" stroke-width="2.4" stroke-opacity="0.3" stroke-linecap="butt"/></g><g filter="url(#b1_3)"><ellipse cx="-8.5" cy="-60.3" rx="6.5" ry="3" fill="rgb(255,255,255)" fill-opacity="0.4" transform="rotate(-8 -8.5 -60.3)"/></g><g filter="url(#b1_5)"><ellipse cx="12.5" cy="-59.6" rx="6" ry="3.2" fill="rgb(255,255,255)" fill-opacity="0.3" transform="rotate(12 12.5 -59.6)"/></g><g filter="url(#b1_6)"><path d="M0.2 -64.5L7.6 -64L7.6 -57.5L5.2 -53.6L1.5 -53L0.2 -54.5Z" fill="rgb(255,255,255)" fill-opacity="0.42"/></g><g filter="url(#b0_55)"><path d="M0.5 -62.8L4 -62.6L6.3 -61.6L6.3 -57.5L4.4 -54.6L1.6 -54.1L0.5 -55.2Z" fill="rgb(255,255,255)" fill-opacity="0.97"/></g><g filter="url(#b0_7)"><ellipse cx="0.9" cy="-51.4" rx="1.2" ry="1.7" fill="rgb(0,0,0)" fill-opacity="0.8" transform="rotate(-35 0.9 -51.4)"/></g></g><g transform="rotate(270)"><g filter="url(#b1_2)"><path d="M36.68 -50.48A62.4 62.4 0 0 1 62.39 -1.09" fill="none" stroke="rgb(255,255,255)" stroke-width="3.2" stroke-opacity="0.2" stroke-linecap="butt"/></g><g filter="url(#b1_2)"><path d="M55.37 -27.00A61.6 61.6 0 0 1 61.45 -4.30" fill="none" stroke="rgb(255,255,255)" stroke-width="3" stroke-opacity="0.34" stroke-linecap="butt"/></g><g filter="url(#b1_2)"><path d="M8.71 -61.99A62.6 62.6 0 0 1 25.46 -57.19" fill="none" stroke="rgb(255,255,255)" stroke-width="2.4" stroke-opacity="0.3" stroke-linecap="butt"/></g><g filter="url(#b1_3)"><ellipse cx="-8.5" cy="-60.3" rx="6.5" ry="3" fill="rgb(255,255,255)" fill-opacity="0.4" transform="rotate(-8 -8.5 -60.3)"/></g><g filter="url(#b1_5)"><ellipse cx="12.5" cy="-59.6" rx="6" ry="3.2" fill="rgb(255,255,255)" fill-opacity="0.3" transform="rotate(12 12.5 -59.6)"/></g><g filter="url(#b1_6)"><path d="M0.2 -64.5L7.6 -64L7.6 -57.5L5.2 -53.6L1.5 -53L0.2 -54.5Z" fill="rgb(255,255,255)" fill-opacity="0.42"/></g><g filter="url(#b0_55)"><path d="M0.5 -62.8L4 -62.6L6.3 -61.6L6.3 -57.5L4.4 -54.6L1.6 -54.1L0.5 -55.2Z" fill="rgb(255,255,255)" fill-opacity="0.97"/></g><g filter="url(#b0_7)"><ellipse cx="0.9" cy="-51.4" rx="1.2" ry="1.7" fill="rgb(0,0,0)" fill-opacity="0.8" transform="rotate(-35 0.9 -51.4)"/></g></g><g transform="rotate(30)"><g filter="url(#b1_4)"><ellipse cx="3.6" cy="-29.5" rx="2.4" ry="3" fill="rgb(255,255,255)" fill-opacity="0.09" transform="rotate(0 3.6 -29.5)"/></g></g><g transform="rotate(90)"><g filter="url(#b1_4)"><ellipse cx="3.6" cy="-29.5" rx="2.4" ry="3" fill="rgb(255,255,255)" fill-opacity="0.09" transform="rotate(0 3.6 -29.5)"/></g></g><g transform="rotate(150)"><g filter="url(#b1_4)"><ellipse cx="3.6" cy="-29.5" rx="2.4" ry="3" fill="rgb(255,255,255)" fill-opacity="0.09" transform="rotate(0 3.6 -29.5)"/></g></g><g transform="rotate(210)"><g filter="url(#b1_4)"><ellipse cx="3.6" cy="-29.5" rx="2.4" ry="3" fill="rgb(255,255,255)" fill-opacity="0.09" transform="rotate(0 3.6 -29.5)"/></g></g><g transform="rotate(270)"><g filter="url(#b1_4)"><ellipse cx="3.6" cy="-29.5" rx="2.4" ry="3" fill="rgb(255,255,255)" fill-opacity="0.09" transform="rotate(0 3.6 -29.5)"/></g></g><g transform="rotate(330)"><g filter="url(#b1_4)"><ellipse cx="3.6" cy="-29.5" rx="2.4" ry="3" fill="rgb(255,255,255)" fill-opacity="0.09" transform="rotate(0 3.6 -29.5)"/></g></g></g><g transform="rotate(0)"><line x1="0" y1="-66" x2="0" y2="-53.7" stroke="#fff" stroke-width="1.0" stroke-opacity="0.85"/></g><g transform="rotate(90)"><line x1="0" y1="-66" x2="0" y2="-53.7" stroke="#fff" stroke-width="1.0" stroke-opacity="0.85"/></g><g transform="rotate(180)"><line x1="0" y1="-66" x2="0" y2="-53.7" stroke="#fff" stroke-width="1.0" stroke-opacity="0.85"/></g><g transform="rotate(270)"><line x1="0" y1="-66" x2="0" y2="-53.7" stroke="#fff" stroke-width="1.0" stroke-opacity="0.85"/></g><line x1="-31.70" y1="-0.00" x2="31.70" y2="0.00" stroke="#fff" stroke-width="1.1"/><line x1="-15.85" y1="-27.45" x2="15.85" y2="27.45" stroke="#fff" stroke-width="1.1"/><line x1="15.85" y1="-27.45" x2="-15.85" y2="27.45" stroke="#fff" stroke-width="1.1"/><circle r="6.9" fill="#fff"/></g><g class="lg"><text x="6.6" y="192.8" font-size="7.44">Solid.Volume Fraction</text><rect x="6.3" y="198.20" width="9.20" height="12.80" fill="#ff3300"/><rect x="6.3" y="210.70" width="9.20" height="12.80" fill="#ff9900"/><rect x="6.3" y="223.20" width="9.20" height="12.80" fill="#ffff00"/><rect x="6.3" y="235.70" width="9.20" height="12.80" fill="#99ff00"/><rect x="6.3" y="248.20" width="9.20" height="12.80" fill="#1eea00"/><rect x="6.3" y="260.70" width="9.20" height="12.80" fill="#00ee66"/><rect x="6.3" y="273.20" width="9.20" height="12.80" fill="#00eecc"/><rect x="6.3" y="285.70" width="9.20" height="12.80" fill="#00d8ff"/><rect x="6.3" y="298.20" width="9.20" height="12.80" fill="#0a88ff"/><rect x="6.3" y="310.70" width="9.20" height="12.80" fill="#0022f0"/><text x="19.7" y="201.48" font-size="7.2">0.30</text><text x="19.7" y="213.98" font-size="7.2">0.27</text><text x="19.7" y="226.48" font-size="7.2">0.24</text><text x="19.7" y="238.98" font-size="7.2">0.21</text><text x="19.7" y="251.48" font-size="7.2">0.18</text><text x="19.7" y="263.98" font-size="7.2">0.15</text><text x="19.7" y="276.48" font-size="7.2">0.12</text><text x="19.7" y="288.98" font-size="7.2">0.09</text><text x="19.7" y="301.48" font-size="7.2">0.06</text><text x="19.7" y="313.98" font-size="7.2">0.03</text><text x="19.7" y="326.48" font-size="7.2">0.00</text></g><g transform="translate(316.7 261.6) scale(1.0016)"><g filter="url(#cm)" clip-path="url(#clip)"><rect x="-70" y="-70" width="140" height="140" fill="rgb(1,1,1)"/><g transform="rotate(0)"><g filter="url(#b0_6)"><g clip-path="url(#cqb)"><g filter="url(#b2_5)"><path d="M-3.4 -64.91L-27.47 -58.91L-45.96 -45.96L-61.19 -24.72L-57.02 -23.04L-43.66 -36.64L-27.56 -44.1L-11.61 -46.57L-2.41 -45.94Z" fill="rgb(255,255,255)" fill-opacity="0.12"/></g><g filter="url(#b2)"><path d="M-4.32 -61.85L-21.21 -58.26L-38.48 -49.25L-48.26 -40.5L-45.2 -37.92L-32.33 -44.5L-17.96 -49.33L-3.56 -50.88Z" fill="rgb(255,255,255)" fill-opacity="0.16"/></g><g filter="url(#b2_2)"><path d="M-10 -58.5L0 -60.5L0 -54L6 -51.5L14 -45L21 -36L22 -31.5L13 -31L3 -35.5L-7 -44.5L-12 -51Z" fill="rgb(255,255,255)" fill-opacity="0.25"/></g><g filter="url(#b1_4)"><path d="M-4.8 -56L0 -57.5L0 -52.5L5.5 -48L9.5 -43L6.5 -40.5L0 -44.5L-5.2 -50Z" fill="rgb(255,255,255)" fill-opacity="0.3"/></g><g filter="url(#b0_7)"><ellipse cx="-1.7" cy="-52.8" rx="1.2" ry="4" fill="rgb(255,255,255)" fill-opacity="0.42" transform="rotate(-8 -1.7 -52.8)"/></g></g></g></g><g transform="rotate(90)"><g filter="url(#b0_6)"><g clip-path="url(#cqb)"><g filter="url(#b2_5)"><path d="M-3.4 -64.91L-27.47 -58.91L-45.96 -45.96L-61.19 -24.72L-57.02 -23.04L-43.66 -36.64L-27.56 -44.1L-11.61 -46.57L-2.41 -45.94Z" fill="rgb(255,255,255)" fill-opacity="0.12"/></g><g filter="url(#b2)"><path d="M-4.32 -61.85L-21.21 -58.26L-38.48 -49.25L-48.26 -40.5L-45.2 -37.92L-32.33 -44.5L-17.96 -49.33L-3.56 -50.88Z" fill="rgb(255,255,255)" fill-opacity="0.16"/></g><g filter="url(#b2_2)"><path d="M-10 -58.5L0 -60.5L0 -54L6 -51.5L14 -45L21 -36L22 -31.5L13 -31L3 -35.5L-7 -44.5L-12 -51Z" fill="rgb(255,255,255)" fill-opacity="0.25"/></g><g filter="url(#b1_4)"><path d="M-4.8 -56L0 -57.5L0 -52.5L5.5 -48L9.5 -43L6.5 -40.5L0 -44.5L-5.2 -50Z" fill="rgb(255,255,255)" fill-opacity="0.3"/></g><g filter="url(#b0_7)"><ellipse cx="-1.7" cy="-52.8" rx="1.2" ry="4" fill="rgb(255,255,255)" fill-opacity="0.42" transform="rotate(-8 -1.7 -52.8)"/></g></g></g></g><g transform="rotate(180)"><g filter="url(#b0_6)"><g clip-path="url(#cqb)"><g filter="url(#b2_5)"><path d="M-3.4 -64.91L-27.47 -58.91L-45.96 -45.96L-61.19 -24.72L-57.02 -23.04L-43.66 -36.64L-27.56 -44.1L-11.61 -46.57L-2.41 -45.94Z" fill="rgb(255,255,255)" fill-opacity="0.12"/></g><g filter="url(#b2)"><path d="M-4.32 -61.85L-21.21 -58.26L-38.48 -49.25L-48.26 -40.5L-45.2 -37.92L-32.33 -44.5L-17.96 -49.33L-3.56 -50.88Z" fill="rgb(255,255,255)" fill-opacity="0.16"/></g><g filter="url(#b2_2)"><path d="M-10 -58.5L0 -60.5L0 -54L6 -51.5L14 -45L21 -36L22 -31.5L13 -31L3 -35.5L-7 -44.5L-12 -51Z" fill="rgb(255,255,255)" fill-opacity="0.25"/></g><g filter="url(#b1_4)"><path d="M-4.8 -56L0 -57.5L0 -52.5L5.5 -48L9.5 -43L6.5 -40.5L0 -44.5L-5.2 -50Z" fill="rgb(255,255,255)" fill-opacity="0.3"/></g><g filter="url(#b0_7)"><ellipse cx="-1.7" cy="-52.8" rx="1.2" ry="4" fill="rgb(255,255,255)" fill-opacity="0.42" transform="rotate(-8 -1.7 -52.8)"/></g></g></g></g><g transform="rotate(270)"><g filter="url(#b0_6)"><g clip-path="url(#cqb)"><g filter="url(#b2_5)"><path d="M-3.4 -64.91L-27.47 -58.91L-45.96 -45.96L-61.19 -24.72L-57.02 -23.04L-43.66 -36.64L-27.56 -44.1L-11.61 -46.57L-2.41 -45.94Z" fill="rgb(255,255,255)" fill-opacity="0.12"/></g><g filter="url(#b2)"><path d="M-4.32 -61.85L-21.21 -58.26L-38.48 -49.25L-48.26 -40.5L-45.2 -37.92L-32.33 -44.5L-17.96 -49.33L-3.56 -50.88Z" fill="rgb(255,255,255)" fill-opacity="0.16"/></g><g filter="url(#b2_2)"><path d="M-10 -58.5L0 -60.5L0 -54L6 -51.5L14 -45L21 -36L22 -31.5L13 -31L3 -35.5L-7 -44.5L-12 -51Z" fill="rgb(255,255,255)" fill-opacity="0.25"/></g><g filter="url(#b1_4)"><path d="M-4.8 -56L0 -57.5L0 -52.5L5.5 -48L9.5 -43L6.5 -40.5L0 -44.5L-5.2 -50Z" fill="rgb(255,255,255)" fill-opacity="0.3"/></g><g filter="url(#b0_7)"><ellipse cx="-1.7" cy="-52.8" rx="1.2" ry="4" fill="rgb(255,255,255)" fill-opacity="0.42" transform="rotate(-8 -1.7 -52.8)"/></g></g></g></g></g><g transform="rotate(0)"><line x1="0" y1="-66" x2="0" y2="-53" stroke="#fff" stroke-width="1.4" stroke-opacity="1"/></g><g transform="rotate(90)"><line x1="0" y1="-66" x2="0" y2="-53" stroke="#fff" stroke-width="1.4" stroke-opacity="1"/></g><g transform="rotate(180)"><line x1="0" y1="-66" x2="0" y2="-53" stroke="#fff" stroke-width="1.4" stroke-opacity="1"/></g><g transform="rotate(270)"><line x1="0" y1="-66" x2="0" y2="-53" stroke="#fff" stroke-width="1.4" stroke-opacity="1"/></g><circle r="3.1" fill="#fff"/></g><g class="lg"><text x="219.6" y="195.1" font-size="7.15">Solid.Volume Fraction</text><rect x="219.1" y="200.10" width="8.90" height="12.38" fill="#ff3300"/><rect x="219.1" y="212.18" width="8.90" height="12.38" fill="#ff9900"/><rect x="219.1" y="224.26" width="8.90" height="12.38" fill="#ffff00"/><rect x="219.1" y="236.34" width="8.90" height="12.38" fill="#99ff00"/><rect x="219.1" y="248.42" width="8.90" height="12.38" fill="#1eea00"/><rect x="219.1" y="260.50" width="8.90" height="12.38" fill="#00ee66"/><rect x="219.1" y="272.58" width="8.90" height="12.38" fill="#00eecc"/><rect x="219.1" y="284.66" width="8.90" height="12.38" fill="#00d8ff"/><rect x="219.1" y="296.74" width="8.90" height="12.38" fill="#0a88ff"/><rect x="219.1" y="308.82" width="8.90" height="12.38" fill="#0022f0"/><text x="232" y="203.27" font-size="6.9">0.30</text><text x="232" y="215.35" font-size="6.9">0.27</text><text x="232" y="227.43" font-size="6.9">0.24</text><text x="232" y="239.51" font-size="6.9">0.21</text><text x="232" y="251.59" font-size="6.9">0.18</text><text x="232" y="263.67" font-size="6.9">0.15</text><text x="232" y="275.75" font-size="6.9">0.12</text><text x="232" y="287.83" font-size="6.9">0.09</text><text x="232" y="299.91" font-size="6.9">0.06</text><text x="232" y="311.99" font-size="6.9">0.03</text><text x="232" y="324.07" font-size="6.9">0.00</text></g><text class="cap" x="67" y="346" textLength="44.4" lengthAdjust="spacingAndGlyphs">y = 0.25 h</text><text class="cap" x="281.6" y="345.8" textLength="38.6" lengthAdjust="spacingAndGlyphs">y = 0.6 h</text><text class="cap" x="189.5" y="359.5">(<tspan font-weight="bold">b</tspan>)</text><g transform="translate(105.3 444.9) scale(1.0500)"><g filter="url(#cm)" clip-path="url(#clip)"><rect x="-70" y="-70" width="140" height="140" fill="rgb(51,51,51)"/><g filter="url(#b2_4)"><circle r="49.5" fill="none" stroke="rgb(0,0,0)" stroke-width="6.5" stroke-opacity="0.18"/></g><g filter="url(#b2)"><circle r="57" fill="none" stroke="rgb(255,255,255)" stroke-width="5" stroke-opacity="0.06"/></g><g filter="url(#b1_2)"><circle r="63.4" fill="none" stroke="rgb(255,255,255)" stroke-width="2.6" stroke-opacity="0.14"/></g><g filter="url(#b1_5)"><circle r="40.5" fill="none" stroke="rgb(255,255,255)" stroke-width="4.5" stroke-opacity="0.06"/></g><g filter="url(#b1_5)"><circle r="35.5" fill="rgb(41,41,41)" fill-opacity="0.6"/></g><g filter="url(#b2_4)"><circle r="28.3" fill="rgb(3,3,3)" fill-opacity="0.96"/></g><g transform="rotate(0)"><g filter="url(#b1_0)"><path d="M40.75 -48.57A63.4 63.4 0 0 1 63.39 -1.11" fill="none" stroke="rgb(255,255,255)" stroke-width="2" stroke-opacity="0.22" stroke-linecap="butt"/></g><g filter="url(#b2)"><path d="M9 -56L21 -52" fill="none" stroke="rgb(255,255,255)" stroke-width="5" stroke-opacity="0.1" stroke-linecap="round"/></g><g filter="url(#b0_6)"><ellipse cx="1.4" cy="-62.3" rx="1.1" ry="1.3" fill="rgb(0,0,0)" fill-opacity="0.8" transform="rotate(0 1.4 -62.3)"/></g><g filter="url(#b0_6)"><ellipse cx="0.9" cy="-54.6" rx="0.9" ry="1.1" fill="rgb(0,0,0)" fill-opacity="0.6" transform="rotate(0 0.9 -54.6)"/></g><g filter="url(#b1_5)"><ellipse cx="6.8" cy="-55.2" rx="6.2" ry="3.5" fill="rgb(255,255,255)" fill-opacity="0.36" transform="rotate(40 6.8 -55.2)"/></g><g filter="url(#b0_9)"><ellipse cx="6.3" cy="-55.5" rx="4.5" ry="2.3" fill="rgb(255,255,255)" fill-opacity="0.5" transform="rotate(40 6.3 -55.5)"/></g><g filter="url(#b0_6)"><ellipse cx="5.3" cy="-56.2" rx="2.1" ry="1.4" fill="rgb(255,255,255)" fill-opacity="0.45" transform="rotate(40 5.3 -56.2)"/></g></g><g transform="rotate(90)"><g filter="url(#b1_0)"><path d="M40.75 -48.57A63.4 63.4 0 0 1 63.39 -1.11" fill="none" stroke="rgb(255,255,255)" stroke-width="2" stroke-opacity="0.22" stroke-linecap="butt"/></g><g filter="url(#b2)"><path d="M9 -56L21 -52" fill="none" stroke="rgb(255,255,255)" stroke-width="5" stroke-opacity="0.1" stroke-linecap="round"/></g><g filter="url(#b0_6)"><ellipse cx="1.4" cy="-62.3" rx="1.1" ry="1.3" fill="rgb(0,0,0)" fill-opacity="0.8" transform="rotate(0 1.4 -62.3)"/></g><g filter="url(#b0_6)"><ellipse cx="0.9" cy="-54.6" rx="0.9" ry="1.1" fill="rgb(0,0,0)" fill-opacity="0.6" transform="rotate(0 0.9 -54.6)"/></g><g filter="url(#b1_5)"><ellipse cx="6.8" cy="-55.2" rx="6.2" ry="3.5" fill="rgb(255,255,255)" fill-opacity="0.36" transform="rotate(40 6.8 -55.2)"/></g><g filter="url(#b0_9)"><ellipse cx="6.3" cy="-55.5" rx="4.5" ry="2.3" fill="rgb(255,255,255)" fill-opacity="0.5" transform="rotate(40 6.3 -55.5)"/></g><g filter="url(#b0_6)"><ellipse cx="5.3" cy="-56.2" rx="2.1" ry="1.4" fill="rgb(255,255,255)" fill-opacity="0.45" transform="rotate(40 5.3 -56.2)"/></g></g><g transform="rotate(180)"><g filter="url(#b1_0)"><path d="M40.75 -48.57A63.4 63.4 0 0 1 63.39 -1.11" fill="none" stroke="rgb(255,255,255)" stroke-width="2" stroke-opacity="0.22" stroke-linecap="butt"/></g><g filter="url(#b2)"><path d="M9 -56L21 -52" fill="none" stroke="rgb(255,255,255)" stroke-width="5" stroke-opacity="0.1" stroke-linecap="round"/></g><g filter="url(#b0_6)"><ellipse cx="1.4" cy="-62.3" rx="1.1" ry="1.3" fill="rgb(0,0,0)" fill-opacity="0.8" transform="rotate(0 1.4 -62.3)"/></g><g filter="url(#b0_6)"><ellipse cx="0.9" cy="-54.6" rx="0.9" ry="1.1" fill="rgb(0,0,0)" fill-opacity="0.6" transform="rotate(0 0.9 -54.6)"/></g><g filter="url(#b1_5)"><ellipse cx="6.8" cy="-55.2" rx="6.2" ry="3.5" fill="rgb(255,255,255)" fill-opacity="0.36" transform="rotate(40 6.8 -55.2)"/></g><g filter="url(#b0_9)"><ellipse cx="6.3" cy="-55.5" rx="4.5" ry="2.3" fill="rgb(255,255,255)" fill-opacity="0.5" transform="rotate(40 6.3 -55.5)"/></g><g filter="url(#b0_6)"><ellipse cx="5.3" cy="-56.2" rx="2.1" ry="1.4" fill="rgb(255,255,255)" fill-opacity="0.45" transform="rotate(40 5.3 -56.2)"/></g></g><g transform="rotate(270)"><g filter="url(#b1_0)"><path d="M40.75 -48.57A63.4 63.4 0 0 1 63.39 -1.11" fill="none" stroke="rgb(255,255,255)" stroke-width="2" stroke-opacity="0.22" stroke-linecap="butt"/></g><g filter="url(#b2)"><path d="M9 -56L21 -52" fill="none" stroke="rgb(255,255,255)" stroke-width="5" stroke-opacity="0.1" stroke-linecap="round"/></g><g filter="url(#b0_6)"><ellipse cx="1.4" cy="-62.3" rx="1.1" ry="1.3" fill="rgb(0,0,0)" fill-opacity="0.8" transform="rotate(0 1.4 -62.3)"/></g><g filter="url(#b0_6)"><ellipse cx="0.9" cy="-54.6" rx="0.9" ry="1.1" fill="rgb(0,0,0)" fill-opacity="0.6" transform="rotate(0 0.9 -54.6)"/></g><g filter="url(#b1_5)"><ellipse cx="6.8" cy="-55.2" rx="6.2" ry="3.5" fill="rgb(255,255,255)" fill-opacity="0.36" transform="rotate(40 6.8 -55.2)"/></g><g filter="url(#b0_9)"><ellipse cx="6.3" cy="-55.5" rx="4.5" ry="2.3" fill="rgb(255,255,255)" fill-opacity="0.5" transform="rotate(40 6.3 -55.5)"/></g><g filter="url(#b0_6)"><ellipse cx="5.3" cy="-56.2" rx="2.1" ry="1.4" fill="rgb(255,255,255)" fill-opacity="0.45" transform="rotate(40 5.3 -56.2)"/></g></g><g transform="rotate(30)"><g filter="url(#b1_4)"><ellipse cx="3.6" cy="-29.5" rx="2.4" ry="3" fill="rgb(255,255,255)" fill-opacity="0.07" transform="rotate(0 3.6 -29.5)"/></g></g><g transform="rotate(90)"><g filter="url(#b1_4)"><ellipse cx="3.6" cy="-29.5" rx="2.4" ry="3" fill="rgb(255,255,255)" fill-opacity="0.07" transform="rotate(0 3.6 -29.5)"/></g></g><g transform="rotate(150)"><g filter="url(#b1_4)"><ellipse cx="3.6" cy="-29.5" rx="2.4" ry="3" fill="rgb(255,255,255)" fill-opacity="0.07" transform="rotate(0 3.6 -29.5)"/></g></g><g transform="rotate(210)"><g filter="url(#b1_4)"><ellipse cx="3.6" cy="-29.5" rx="2.4" ry="3" fill="rgb(255,255,255)" fill-opacity="0.07" transform="rotate(0 3.6 -29.5)"/></g></g><g transform="rotate(270)"><g filter="url(#b1_4)"><ellipse cx="3.6" cy="-29.5" rx="2.4" ry="3" fill="rgb(255,255,255)" fill-opacity="0.07" transform="rotate(0 3.6 -29.5)"/></g></g><g transform="rotate(330)"><g filter="url(#b1_4)"><ellipse cx="3.6" cy="-29.5" rx="2.4" ry="3" fill="rgb(255,255,255)" fill-opacity="0.07" transform="rotate(0 3.6 -29.5)"/></g></g></g><g transform="rotate(0)"><line x1="0" y1="-66" x2="0" y2="-56" stroke="#fff" stroke-width="1.1" stroke-opacity="0.9"/></g><g transform="rotate(90)"><line x1="0" y1="-66" x2="0" y2="-56" stroke="#fff" stroke-width="1.1" stroke-opacity="0.9"/></g><g transform="rotate(180)"><line x1="0" y1="-66" x2="0" y2="-56" stroke="#fff" stroke-width="1.1" stroke-opacity="0.9"/></g><g transform="rotate(270)"><line x1="0" y1="-66" x2="0" y2="-56" stroke="#fff" stroke-width="1.1" stroke-opacity="0.9"/></g><line x1="-31.70" y1="-0.00" x2="31.70" y2="0.00" stroke="#fff" stroke-width="1.1"/><line x1="-15.85" y1="-27.45" x2="15.85" y2="27.45" stroke="#fff" stroke-width="1.1"/><line x1="15.85" y1="-27.45" x2="-15.85" y2="27.45" stroke="#fff" stroke-width="1.1"/><circle r="6.9" fill="#fff"/></g><g class="lg"><text x="4.1" y="376.59999999999997" font-size="7.57">Solid.Volume Fraction</text><rect x="3.7" y="381.80" width="9.10" height="12.97" fill="#ff3300"/><rect x="3.7" y="394.47" width="9.10" height="12.97" fill="#ff9900"/><rect x="3.7" y="407.14" width="9.10" height="12.97" fill="#ffff00"/><rect x="3.7" y="419.81" width="9.10" height="12.97" fill="#99ff00"/><rect x="3.7" y="432.48" width="9.10" height="12.97" fill="#1eea00"/><rect x="3.7" y="445.15" width="9.10" height="12.97" fill="#00ee66"/><rect x="3.7" y="457.82" width="9.10" height="12.97" fill="#00eecc"/><rect x="3.7" y="470.49" width="9.10" height="12.97" fill="#00d8ff"/><rect x="3.7" y="483.16" width="9.10" height="12.97" fill="#0a88ff"/><rect x="3.7" y="495.83" width="9.10" height="12.97" fill="#0022f0"/><text x="17" y="385.11" font-size="7.3">0.30</text><text x="17" y="397.78" font-size="7.3">0.27</text><text x="17" y="410.45" font-size="7.3">0.24</text><text x="17" y="423.12" font-size="7.3">0.21</text><text x="17" y="435.79" font-size="7.3">0.18</text><text x="17" y="448.46" font-size="7.3">0.15</text><text x="17" y="461.13" font-size="7.3">0.12</text><text x="17" y="473.80" font-size="7.3">0.09</text><text x="17" y="486.47" font-size="7.3">0.06</text><text x="17" y="499.14" font-size="7.3">0.03</text><text x="17" y="511.81" font-size="7.3">0.00</text></g><g transform="translate(316.8 442.2) scale(1.0141)"><g filter="url(#cm)" clip-path="url(#clip)"><rect x="-70" y="-70" width="140" height="140" fill="rgb(1,1,1)"/><g transform="rotate(0)"><g filter="url(#b0_6)"><g clip-path="url(#cqc)"><g filter="url(#b2_5)"><path d="M-3.4 -64.91L-27.47 -58.91L-45.96 -45.96L-62.02 -22.57L-58.26 -21.21L-44.05 -36.96L-28.09 -44.95L-12.1 -48.51L-2.51 -47.93Z" fill="rgb(255,255,255)" fill-opacity="0.13"/></g><g filter="url(#b2)"><path d="M-4.36 -62.35L-21.38 -58.73L-38.79 -49.64L-50.04 -39.09L-46.89 -36.63L-32.92 -45.3L-18.3 -50.27L-3.63 -51.87Z" fill="rgb(255,255,255)" fill-opacity="0.17"/></g><g filter="url(#b2_4)"><path d="M-13 -56.5L-1 -58.5L0.5 -58L6 -55L12.5 -48L17.5 -38L15.5 -31.5L5 -32L-6.5 -42L-15 -49Z" fill="rgb(255,255,255)" fill-opacity="0.175"/></g><g filter="url(#b1_8)"><path d="M-10 -53.5L-3 -55.5L0.5 -56L5.5 -53L10.5 -45L8.5 -42L1 -42.5L-6.5 -46.5Z" fill="rgb(255,255,255)" fill-opacity="0.3"/></g><g filter="url(#b1_2)"><ellipse cx="1.2" cy="-50.2" rx="4.6" ry="3.2" fill="rgb(255,255,255)" fill-opacity="0.16" transform="rotate(35 1.2 -50.2)"/></g></g></g></g><g transform="rotate(90)"><g filter="url(#b0_6)"><g clip-path="url(#cqc)"><g filter="url(#b2_5)"><path d="M-3.4 -64.91L-27.47 -58.91L-45.96 -45.96L-62.02 -22.57L-58.26 -21.21L-44.05 -36.96L-28.09 -44.95L-12.1 -48.51L-2.51 -47.93Z" fill="rgb(255,255,255)" fill-opacity="0.13"/></g><g filter="url(#b2)"><path d="M-4.36 -62.35L-21.38 -58.73L-38.79 -49.64L-50.04 -39.09L-46.89 -36.63L-32.92 -45.3L-18.3 -50.27L-3.63 -51.87Z" fill="rgb(255,255,255)" fill-opacity="0.17"/></g><g filter="url(#b2_4)"><path d="M-13 -56.5L-1 -58.5L0.5 -58L6 -55L12.5 -48L17.5 -38L15.5 -31.5L5 -32L-6.5 -42L-15 -49Z" fill="rgb(255,255,255)" fill-opacity="0.175"/></g><g filter="url(#b1_8)"><path d="M-10 -53.5L-3 -55.5L0.5 -56L5.5 -53L10.5 -45L8.5 -42L1 -42.5L-6.5 -46.5Z" fill="rgb(255,255,255)" fill-opacity="0.3"/></g><g filter="url(#b1_2)"><ellipse cx="1.2" cy="-50.2" rx="4.6" ry="3.2" fill="rgb(255,255,255)" fill-opacity="0.16" transform="rotate(35 1.2 -50.2)"/></g></g></g></g><g transform="rotate(180)"><g filter="url(#b0_6)"><g clip-path="url(#cqc)"><g filter="url(#b2_5)"><path d="M-3.4 -64.91L-27.47 -58.91L-45.96 -45.96L-62.02 -22.57L-58.26 -21.21L-44.05 -36.96L-28.09 -44.95L-12.1 -48.51L-2.51 -47.93Z" fill="rgb(255,255,255)" fill-opacity="0.13"/></g><g filter="url(#b2)"><path d="M-4.36 -62.35L-21.38 -58.73L-38.79 -49.64L-50.04 -39.09L-46.89 -36.63L-32.92 -45.3L-18.3 -50.27L-3.63 -51.87Z" fill="rgb(255,255,255)" fill-opacity="0.17"/></g><g filter="url(#b2_4)"><path d="M-13 -56.5L-1 -58.5L0.5 -58L6 -55L12.5 -48L17.5 -38L15.5 -31.5L5 -32L-6.5 -42L-15 -49Z" fill="rgb(255,255,255)" fill-opacity="0.175"/></g><g filter="url(#b1_8)"><path d="M-10 -53.5L-3 -55.5L0.5 -56L5.5 -53L10.5 -45L8.5 -42L1 -42.5L-6.5 -46.5Z" fill="rgb(255,255,255)" fill-opacity="0.3"/></g><g filter="url(#b1_2)"><ellipse cx="1.2" cy="-50.2" rx="4.6" ry="3.2" fill="rgb(255,255,255)" fill-opacity="0.16" transform="rotate(35 1.2 -50.2)"/></g></g></g></g><g transform="rotate(270)"><g filter="url(#b0_6)"><g clip-path="url(#cqc)"><g filter="url(#b2_5)"><path d="M-3.4 -64.91L-27.47 -58.91L-45.96 -45.96L-62.02 -22.57L-58.26 -21.21L-44.05 -36.96L-28.09 -44.95L-12.1 -48.51L-2.51 -47.93Z" fill="rgb(255,255,255)" fill-opacity="0.13"/></g><g filter="url(#b2)"><path d="M-4.36 -62.35L-21.38 -58.73L-38.79 -49.64L-50.04 -39.09L-46.89 -36.63L-32.92 -45.3L-18.3 -50.27L-3.63 -51.87Z" fill="rgb(255,255,255)" fill-opacity="0.17"/></g><g filter="url(#b2_4)"><path d="M-13 -56.5L-1 -58.5L0.5 -58L6 -55L12.5 -48L17.5 -38L15.5 -31.5L5 -32L-6.5 -42L-15 -49Z" fill="rgb(255,255,255)" fill-opacity="0.175"/></g><g filter="url(#b1_8)"><path d="M-10 -53.5L-3 -55.5L0.5 -56L5.5 -53L10.5 -45L8.5 -42L1 -42.5L-6.5 -46.5Z" fill="rgb(255,255,255)" fill-opacity="0.3"/></g><g filter="url(#b1_2)"><ellipse cx="1.2" cy="-50.2" rx="4.6" ry="3.2" fill="rgb(255,255,255)" fill-opacity="0.16" transform="rotate(35 1.2 -50.2)"/></g></g></g></g></g><g transform="rotate(0)"><line x1="0" y1="-66" x2="0" y2="-57.6" stroke="#fff" stroke-width="1.4" stroke-opacity="1"/></g><g transform="rotate(90)"><line x1="0" y1="-66" x2="0" y2="-57.6" stroke="#fff" stroke-width="1.4" stroke-opacity="1"/></g><g transform="rotate(180)"><line x1="0" y1="-66" x2="0" y2="-57.6" stroke="#fff" stroke-width="1.4" stroke-opacity="1"/></g><g transform="rotate(270)"><line x1="0" y1="-66" x2="0" y2="-57.6" stroke="#fff" stroke-width="1.4" stroke-opacity="1"/></g><circle r="3.1" fill="#fff"/></g><g class="lg"><text x="220.8" y="375.09999999999997" font-size="7.40">Solid.Volume Fraction</text><rect x="220.6" y="380.10" width="9.30" height="12.90" fill="#ff3300"/><rect x="220.6" y="392.70" width="9.30" height="12.90" fill="#ff9900"/><rect x="220.6" y="405.30" width="9.30" height="12.90" fill="#ffff00"/><rect x="220.6" y="417.90" width="9.30" height="12.90" fill="#99ff00"/><rect x="220.6" y="430.50" width="9.30" height="12.90" fill="#1eea00"/><rect x="220.6" y="443.10" width="9.30" height="12.90" fill="#00ee66"/><rect x="220.6" y="455.70" width="9.30" height="12.90" fill="#00eecc"/><rect x="220.6" y="468.30" width="9.30" height="12.90" fill="#00d8ff"/><rect x="220.6" y="480.90" width="9.30" height="12.90" fill="#0a88ff"/><rect x="220.6" y="493.50" width="9.30" height="12.90" fill="#0022f0"/><text x="234" y="383.34" font-size="7.1">0.30</text><text x="234" y="395.94" font-size="7.1">0.27</text><text x="234" y="408.54" font-size="7.1">0.24</text><text x="234" y="421.14" font-size="7.1">0.21</text><text x="234" y="433.74" font-size="7.1">0.18</text><text x="234" y="446.34" font-size="7.1">0.15</text><text x="234" y="458.94" font-size="7.1">0.12</text><text x="234" y="471.54" font-size="7.1">0.09</text><text x="234" y="484.14" font-size="7.1">0.06</text><text x="234" y="496.74" font-size="7.1">0.03</text><text x="234" y="509.34" font-size="7.1">0.00</text></g><text class="cap" x="70.1" y="527.6" textLength="38.6" lengthAdjust="spacingAndGlyphs">y = 0.2 h</text><text class="cap" x="281.6" y="527.8" textLength="39" lengthAdjust="spacingAndGlyphs">y = 0.6 h</text><text class="cap" x="190.6" y="543">(<tspan font-weight="bold">c</tspan>)</text>
</svg>
</body></html>
